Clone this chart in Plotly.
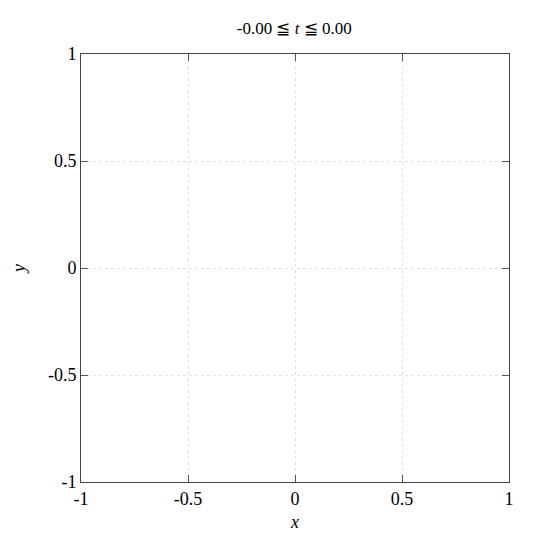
import plotly.graph_objects as go

# trajectory at t = 0 has no points yet
title_text = "-0.00 ≦ <i>t</i> ≦ 0.00"
x_vals = []
y_vals = []
tick_vals = [-1, -0.5, 0, 0.5, 1]
tick_text = ["-1", "-0.5", "0", "0.5", "1"]

font = "Liberation Serif"

fig = go.Figure()
fig.add_trace(go.Scatter(x=x_vals, y=y_vals, mode="lines",
                         line=dict(color="black", width=1), showlegend=False))

axis = dict(range=[-1, 1], tickvals=tick_vals, ticktext=tick_text,
            ticks="inside", ticklen=7, tickcolor="#555", tickwidth=1,
            showline=True, linecolor="#444", linewidth=1, mirror="ticks",
            showgrid=True, gridcolor="#e2e2e2", griddash="dot", gridwidth=1,
            zeroline=False, automargin=False,
            tickfont=dict(family=font, size=18, color="black"))

fig.update_layout(
    width=532, height=532,
    margin=dict(l=73, r=31, t=46, b=58),
    paper_bgcolor="white", plot_bgcolor="white",
    font=dict(family=font, color="black"),
    title=dict(text=title_text,
               x=0.538, xanchor="center", y=0.962, yanchor="middle",
               font=dict(family=font, size=17, color="black")),
    xaxis=dict(axis, title=dict(text="<i>x</i>", standoff=7,
                                font=dict(family=font, size=18, color="black"))),
    yaxis=dict(axis, title=dict(text="<i>y</i>", standoff=17,
                                font=dict(family=font, size=18, color="black"))),
)

fig.write_html("out.html")
